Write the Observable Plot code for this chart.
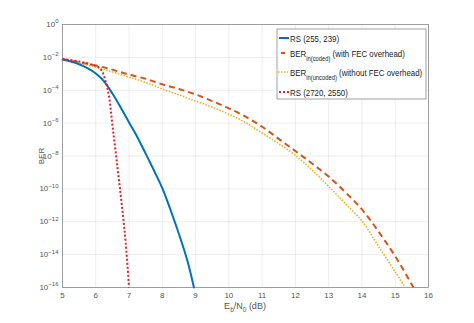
<!DOCTYPE html>
<html>
<head>
<meta charset="utf-8">
<script src="https://cdn.jsdelivr.net/npm/d3@7"></script>
<script src="https://cdn.jsdelivr.net/npm/@observablehq/plot@0.6"></script>
<style>
  html, body { margin: 0; padding: 0; background: #fff; }
  #chart { position: relative; width: 474px; height: 323px; }
</style>
</head>
<body>
<div id="chart"></div>
<script>
// ---- Data ----
const xTicks = [5, 6, 7, 8, 9, 10, 11, 12, 13, 14, 15, 16];
const yTicks = [1, 1e-2, 1e-4, 1e-6, 1e-8, 1e-10, 1e-12, 1e-14, 1e-16];

const rs255_x   = [5, 5.25, 5.5, 5.75, 6, 6.25, 6.5, 6.75, 7, 7.25, 7.5, 7.75, 8, 8.25, 8.5, 8.75, 8.95];
const rs255_ber = [7.4e-3, 5.6e-3, 3.8e-3, 2.2e-3, 1.05e-3, 3.5e-4, 6.3e-5, 8.9e-6, 1.1e-6, 1.4e-7, 1.4e-8, 1.3e-9, 1.1e-10, 5e-12, 1.8e-13, 4.5e-15, 1e-16];

const coded_x   = [5, 5.5, 6, 6.5, 7, 7.5, 8, 8.5, 9, 9.5, 10, 10.5, 11, 11.5, 12, 12.5, 13, 13.5, 14, 14.5, 15, 15.55];
const coded_ber = [7.9e-3, 5e-3, 3.2e-3, 1.8e-3, 8.9e-4, 5e-4, 2.3e-4, 1.2e-4, 5.6e-5, 2.2e-5, 7.9e-6, 2.5e-6, 6e-7, 1.1e-7, 2e-8, 3.5e-9, 5.6e-10, 6.3e-11, 5.6e-12, 2.5e-13, 7.9e-15, 1e-16];

const uncoded_x   = [5, 5.5, 6, 6.5, 7, 7.5, 8, 8.5, 9, 9.5, 10, 10.5, 11, 11.5, 12, 12.5, 13, 13.5, 14, 14.5, 15, 15.3];
const uncoded_ber = [7.1e-3, 4.5e-3, 2.5e-3, 1.3e-3, 6.3e-4, 3e-4, 1.2e-4, 5.2e-5, 2.2e-5, 9.3e-6, 3.5e-6, 1.1e-6, 2.5e-7, 5.6e-8, 1.1e-8, 1.4e-9, 1.4e-10, 1.3e-11, 1.1e-12, 3.2e-14, 8.9e-16, 1e-16];

const rs2720_x   = [5, 5.5, 5.9, 6.1, 6.2, 6.3, 6.4, 6.5, 6.6, 6.7, 6.8, 6.9, 7.0];
const rs2720_ber = [7.9e-3, 5.6e-3, 3.5e-3, 2.4e-3, 1.3e-3, 3.2e-4, 4e-5, 7.9e-7, 1.6e-8, 3.2e-10, 5e-12, 5e-14, 1e-16];

const seriesNames = ["RS (255, 239)", "BER_in(coded) (with FEC overhead)", "BER_in(uncoded) (without FEC overhead)", "RS (2720, 2550)"];

const toRows = (xs, ys) => xs.map((x, i) => ({x, y: ys[i]}));
const rs255 = toRows(rs255_x, rs255_ber);
const coded = toRows(coded_x, coded_ber);
const uncoded = toRows(uncoded_x, uncoded_ber);
const rs2720 = toRows(rs2720_x, rs2720_ber);

const C_BLUE = "#0072BD", C_ORANGE = "#D95319", C_YELLOW = "#EDB120", C_RED = "#E8202A";

const chart = Plot.plot({
  width: 474,
  height: 323,
  marginLeft: 62,
  marginRight: 46,
  marginTop: 24,
  marginBottom: 36,
  style: {fontFamily: "'Liberation Sans', Arial, sans-serif", fontSize: "8px", color: "#555", background: "#fff"},
  x: {domain: [5, 16], ticks: xTicks, tickFormat: d => String(d), grid: true, tickSize: 0, tickPadding: 5, label: null},
  y: {type: "log", domain: [1e-16, 1], ticks: yTicks, tickFormat: d => String(d), grid: true, tickSize: 0, tickPadding: 4, label: "BER", labelAnchor: "center", labelArrow: "none", labelOffset: 24},
  marks: [
    Plot.frame({stroke: "#8a8a8a", strokeWidth: 0.8}),
    Plot.line(coded, {x: "x", y: "y", stroke: C_ORANGE, strokeWidth: 2, strokeDasharray: "6,4", strokeLinecap: "butt", curve: "catmull-rom"}),
    Plot.line(uncoded, {x: "x", y: "y", stroke: C_YELLOW, strokeWidth: 1.6, strokeDasharray: "1.5,1.5", strokeLinecap: "butt", curve: "catmull-rom"}),
    Plot.line(rs255, {x: "x", y: "y", stroke: C_BLUE, strokeWidth: 2, curve: "catmull-rom"}),
    Plot.line(rs2720, {x: "x", y: "y", stroke: C_RED, strokeWidth: 2, strokeDasharray: "2,2", strokeLinecap: "butt", curve: "catmull-rom"})
  ]
});

document.getElementById("chart").appendChild(chart);

const svg = d3.select(chart);
const sx = chart.scale("x"), sy = chart.scale("y");

// y tick labels as 10 with superscript exponent
svg.selectAll('[aria-label="y-axis tick label"] text').each(function() {
  const v = +this.textContent;
  const e = Math.round(Math.log10(v));
  const t = d3.select(this);
  t.text("");
  t.append("tspan").text("10");
  t.append("tspan").attr("dy", "-0.6em").attr("font-size", "6px").text(String(e).replace("-", "\u2212"));
});

// x axis label with subscripts
const xl = svg.append("text")
  .attr("x", (sx.apply(5) + sx.apply(16)) / 2)
  .attr("y", sy.apply(1e-16) + 22)
  .attr("text-anchor", "middle")
  .attr("font-size", "9px")
  .attr("fill", "#555");
xl.append("tspan").text("E");
xl.append("tspan").attr("dy", "3").attr("font-size", "6.5px").text("b");
xl.append("tspan").attr("dy", "-3").text("/N");
xl.append("tspan").attr("dy", "3").attr("font-size", "6.5px").text("0");
xl.append("tspan").attr("dy", "-3").text(" (dB)");

// Legend (inside top-right of the plot)
const frameRight = sx.apply(16), frameTop = sy.apply(1);
const lx = frameRight - 151, ly = frameTop + 5, lw = 149, lh = 70;
const lg = svg.append("g").attr("font-family", "'Liberation Sans', Arial, sans-serif").attr("text-anchor", "start");
lg.append("rect").attr("x", lx).attr("y", ly).attr("width", lw).attr("height", lh)
  .attr("fill", "#fff").attr("stroke", "#8a8a8a").attr("stroke-width", 0.8);

const rows = [
  {dy: 9, color: C_BLUE, dash: null, w: 2, x0: 2, x1: 12},
  {dy: 24, color: C_ORANGE, dash: null, w: 2, x0: 4, x1: 8},
  {dy: 43, color: C_YELLOW, dash: "1.5,1.5", w: 1.6, x0: 1, x1: 11},
  {dy: 63, color: C_RED, dash: "2,2", w: 2, x0: 2, x1: 12}
];
rows.forEach((r, i) => {
  const yy = ly + r.dy;
  const ln = lg.append("line").attr("x1", lx + r.x0).attr("x2", lx + r.x1).attr("y1", yy).attr("y2", yy)
    .attr("stroke", r.color).attr("stroke-width", r.w);
  if (r.dash) ln.attr("stroke-dasharray", r.dash);
  const t = lg.append("text")
    .attr("transform", `translate(${lx + 13},${yy + 3.5}) scale(0.83,1)`)
    .attr("font-size", "9.5px").attr("fill", "#222").attr("text-anchor", "start");
  const name = seriesNames[i];
  if (name.startsWith("BER_")) {
    const m = name.match(/^BER_(\S+) (.*)$/);
    t.append("tspan").text("BER");
    t.append("tspan").attr("dy", "4").attr("font-size", "7px").text(m[1]);
    t.append("tspan").attr("dy", "-4").text(" " + m[2]);
  } else {
    t.text(name);
  }
});
</script>
</body>
</html>
